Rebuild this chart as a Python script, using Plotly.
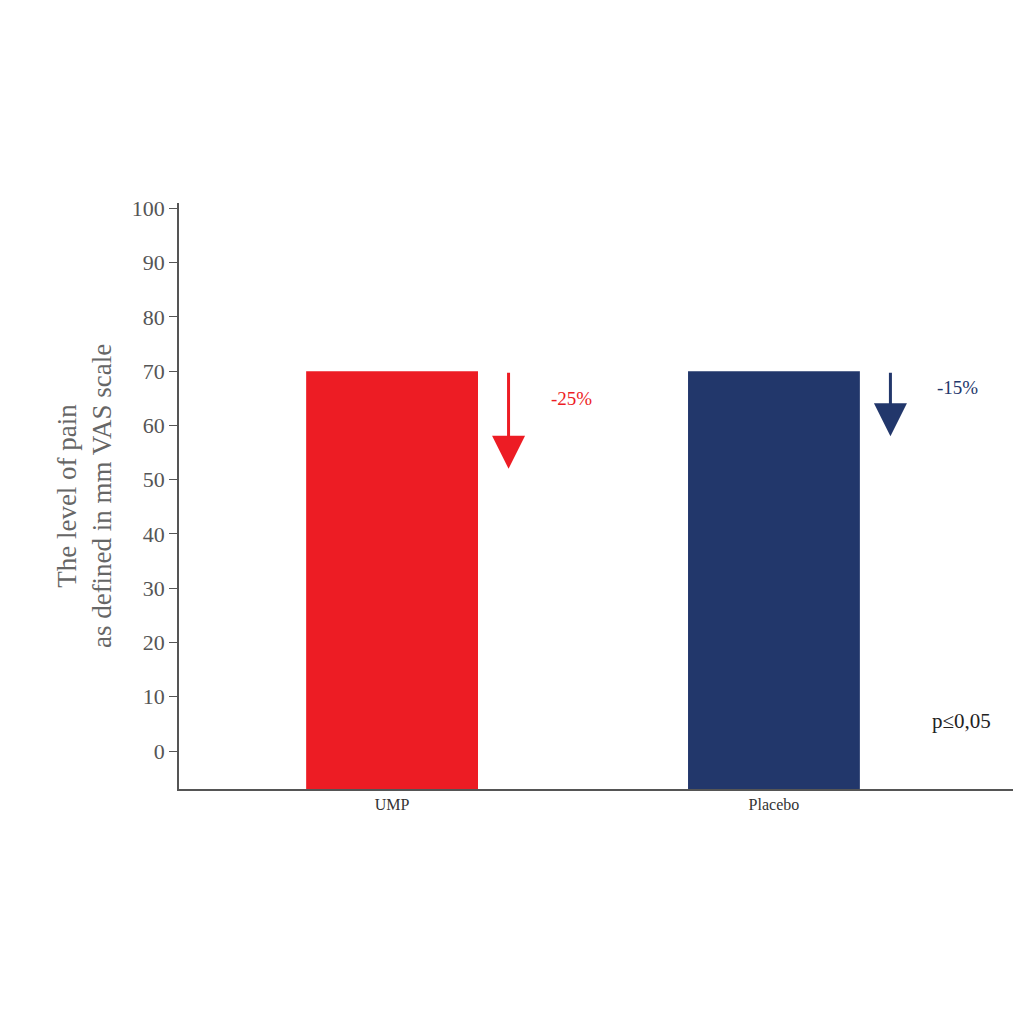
import plotly.graph_objects as go

groups = ["UMP", "Placebo"]
pain_level = [70, 70]
after_level = [52, 58]
reduction = ["-25%", "-15%"]
colors = ["#ED1C24", "#22376B"]

x_pos = [0, 1]
base = -7

fig = go.Figure()
fig.add_trace(go.Bar(
    x=x_pos, y=[v - base for v in pain_level], base=base,
    width=0.45, marker_color=colors, marker_line_width=0,
))

for i in range(2):
    fig.add_annotation(
        x=x_pos[i] + 0.305, y=after_level[i], ax=x_pos[i] + 0.305, ay=pain_level[i],
        xref="x", yref="y", axref="x", ayref="y", text="",
        showarrow=True, arrowhead=2, arrowsize=2.2, arrowwidth=3, arrowcolor=colors[i],
    )
    fig.add_annotation(
        x=x_pos[i] + 0.47 + (0.01 if i else 0), y=pain_level[i] - (5 if i == 0 else 3),
        xref="x", yref="y", text=reduction[i], showarrow=False,
        font=dict(size=19, color=colors[i], family="Liberation Sans Narrow"),
    )

fig.add_annotation(
    x=0.6, y=104, xref="x", yref="y", text="Μείωση της έντασης του πόνου",
    showarrow=False, font=dict(size=27, color="#ED1C24", family="Liberation Sans Narrow"),
)
fig.add_annotation(
    x=1.49, y=5.5, xref="x", yref="y", text="p≤0,05",
    showarrow=False, font=dict(size=21, color="#222", family="Liberation Sans Narrow"),
)

fig.update_layout(
    width=1024, height=1024,
    margin=dict(l=171, r=19, t=195, b=243),
    plot_bgcolor="white", paper_bgcolor="white",
    showlegend=False,
    font=dict(family="Liberation Sans Narrow", color="#555"),
    xaxis=dict(
        range=[-0.558, 1.626], tickvals=x_pos, ticktext=groups,
        showgrid=False, zeroline=False, showline=True, linecolor="#555", linewidth=1.5,
        ticks="", tickfont=dict(size=16, color="#333"),
    ),
    yaxis=dict(
        range=[-7, 101], tickvals=list(range(0, 101, 10)),
        showgrid=False, zeroline=False, showline=True, linecolor="#555", linewidth=1.5,
        ticks="outside", ticklen=8, tickcolor="#555",
        tickfont=dict(size=22, color="#555"),
        title=dict(text="The level of pain<br>as defined in mm VAS scale",
                   font=dict(size=27, color="#666"), standoff=12),
    ),
)

fig.write_html("out.html")
